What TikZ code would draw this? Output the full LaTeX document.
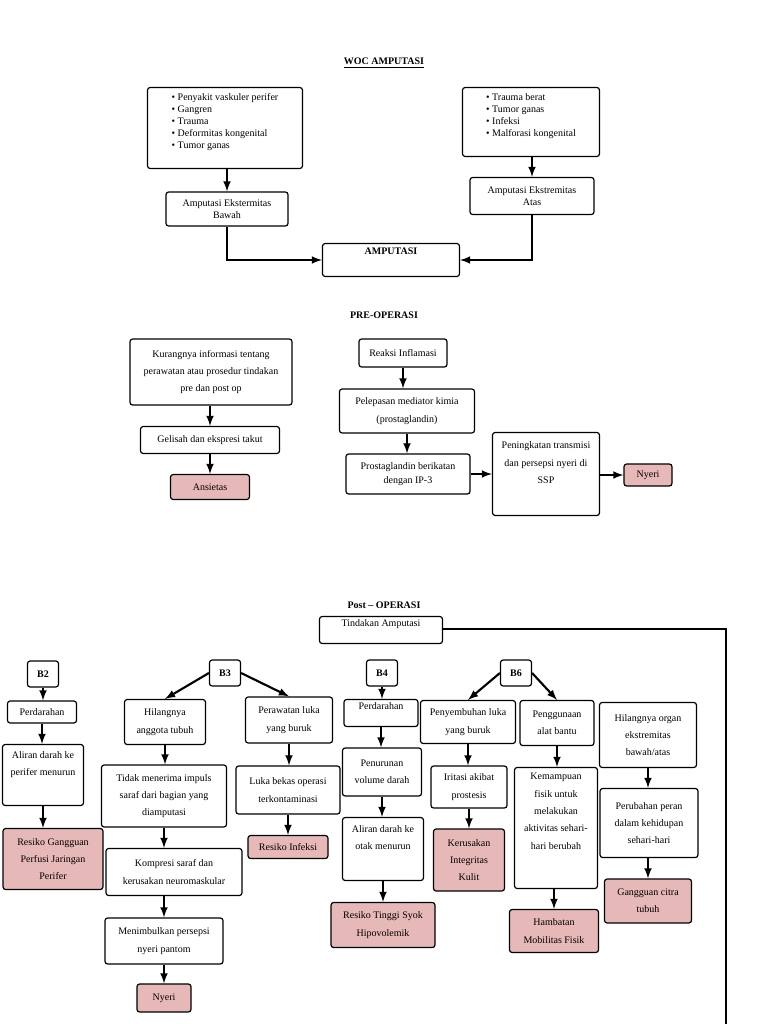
\documentclass[tikz,border=0pt]{standalone}
\usepackage{fontspec}
\setmainfont{Liberation Serif}
\usetikzlibrary{arrows}
\definecolor{pinkbox}{HTML}{E6B8B7}
\tikzset{
  box/.style={draw, line width=0.9pt, rounded corners=2pt, align=center, inner sep=1pt,
    font=\fontsize{7.5}{13}\selectfont},
  diag/.style={box, fill=pinkbox},
  sz/.style 2 args={minimum width=#1*0.75pt, minimum height=#2*0.75pt},
  bkode/.style={box, sz={31}{26}, font=\bfseries\fontsize{7.5}{9}\selectfont},
  arr/.style={line width=1.6pt, -latex},
  title/.style={font=\bfseries\fontsize{7.5}{9}\selectfont}
}
\begin{document}
\begin{tikzpicture}[x=0.75pt, y=-0.75pt]
    \useasboundingbox (0,0) rectangle (768,1024);

    % WOC
    \node[title] (woc) at (384,63) {\underline{WOC AMPUTASI}};
    \node[box, sz={155}{81}, align=left] (sebabB) at (225,128)
        {\textbullet\ Penyakit vaskuler perifer\\[-4pt] \textbullet\ Gangren\\[-4pt] \textbullet\ Trauma\\[-4pt] \textbullet\ Deformitas kongenital\\[-4pt] \textbullet\ Tumor ganas\\[-2pt]\mbox{}};
    \node[box, sz={137}{69}, align=left] (sebabA) at (531,122)
        {\textbullet\ Trauma berat\\[-4pt] \textbullet\ Tumor ganas\\[-4pt] \textbullet\ Infeksi\\[-4pt] \textbullet\ Malforasi kongenital\\[-2pt]\mbox{}};
    \node[box, sz={122}{34}] (bawah) at (227,209) {Amputasi Ekstermitas\\[-4pt] Bawah};
    \node[box, sz={124}{37}] (atas) at (532,196) {Amputasi Ekstremitas\\[-4pt] Atas};
    \node[box, sz={137}{33}, font=\bfseries\fontsize{7.5}{9}\selectfont] (amp) at (391,260) {AMPUTASI\\[4pt]\mbox{}};

    \draw[arr] (sebabB.south -| bawah) -- (bawah.north);
    \draw[arr] (sebabA.south -| atas) -- (atas.north);
    \draw[arr] (bawah.south) |- (amp.west);
    \draw[arr] (atas.south) |- (amp.east);

    % PRE-OPERASI
    \node[title] (pre) at (384,315) {PRE-OPERASI};
    \node[box, sz={162}{66}] (kurang) at (211,372) {Kurangnya informasi tentang\\ perawatan atau prosedur tindakan\\ pre dan post op};
    \node[box, sz={139}{27}] (gelisah) at (210,440) {Gelisah dan ekspresi takut};
    \node[diag, sz={79}{25}] (ansietas) at (210,487) {Ansietas};
    \node[box, sz={88}{28}] (reaksi) at (403,353) {Reaksi Inflamasi};
    \node[box, sz={135}{44}] (lepas) at (407,411) {Pelepasan mediator kimia\\ (prostaglandin)};
    \node[box, sz={124}{40}] (prosta) at (408,474) {Prostaglandin berikatan\\[-3pt] dengan IP-3};
    \node[box, sz={107}{83}] (tingkat) at (546,474) {Peningkatan transmisi\\ dan persepsi nyeri di\\ SSP\\[4pt]\mbox{}};
    \node[diag, sz={48}{22}] (nyeriA) at (648,475) {Nyeri};

    \draw[arr] (kurang.south -| gelisah) -- (gelisah.north);
    \draw[arr] (gelisah.south) -- (ansietas.north);
    \draw[arr] (reaksi.south) -- (reaksi.south |- lepas.north);
    \draw[arr] (lepas.south) -- (lepas.south |- prosta.north);
    \draw[arr] (prosta.east) -- (tingkat.west |- prosta.east);
    \draw[arr] (tingkat.east |- nyeriA) -- (nyeriA.west);

    % Post-OPERASI
    \node[title] (post) at (384,605) {Post -- OPERASI};
    \node[box, sz={123}{27}] (tindakan) at (381,630) {Tindakan Amputasi\\[-2pt]\mbox{}};
    \coordinate (sudut) at (726,629);
    \coordinate (bawahkanan) at (726,1024);
    \draw[line width=1.6pt] (tindakan.east |- sudut) -- (sudut) -- (bawahkanan);

    % B2
    \node[bkode] (btwo) at (43,674) {B2};
    \node[box, sz={69}{22}] (darahA) at (42,712) {Perdarahan};
    \node[box, sz={81}{61}] (aliranA) at (43,775) {Aliran darah ke\\ perifer menurun\\[4pt]\mbox{}};
    \node[diag, sz={100}{61}] (perfusi) at (53,859) {Resiko Gangguan\\ Perfusi Jaringan\\ Perifer};
    \draw[arr] (btwo.south) -- (btwo.south |- darahA.north);
    \draw[arr] (darahA.south) -- (darahA.south |- aliranA.north);
    \draw[arr] (aliranA.south) -- (aliranA.south |- perfusi.north);

    % B3
    \node[bkode] (bthree) at (225,673) {B3};
    \node[box, sz={81}{45}] (anggota) at (165,722) {Hilangnya\\ anggota tubuh};
    \node[box, sz={87}{46}] (rawat) at (289,720) {Perawatan luka\\ yang buruk};
    \node[box, sz={125}{62}] (impuls) at (164,796) {Tidak menerima impuls\\ saraf dari bagian yang\\ diamputasi};
    \node[box, sz={104}{48}] (lukabekas) at (288,790) {Luka bekas operasi\\ terkontaminasi};
    \node[diag, sz={80}{23}] (infeksi) at (288,847) {Resiko Infeksi};
    \node[box, sz={136}{47}] (kompresi) at (174,872) {Kompresi saraf dan\\ kerusakan neuromaskular};
    \node[box, sz={118}{46}] (pantom) at (164,941) {Menimbulkan persepsi\\ nyeri pantom};
    \node[diag, sz={54}{28}] (nyeriB) at (164,998) {Nyeri};
    \draw[arr] (bthree.west) -- (anggota.north);
    \draw[arr] (bthree.east) -- (rawat.north);
    \draw[arr] (anggota.south) -- (anggota.south |- impuls.north);
    \draw[arr] (rawat.south) -- (rawat.south |- lukabekas.north);
    \draw[arr] (lukabekas.south) -- (infeksi.north);
    \draw[arr] (impuls.south) -- (impuls.south |- kompresi.north);
    \draw[arr] (kompresi.south -| pantom) -- (pantom.north);
    \draw[arr] (pantom.south) -- (nyeriB.north);

    % B4
    \node[bkode] (bfour) at (382,673) {B4};
    \node[box, sz={74}{27}] (darahB) at (381,713) {Perdarahan\\[-2pt]\mbox{}};
    \node[box, sz={79}{48}] (volume) at (382,772) {Penurunan\\ volume darah};
    \node[box, sz={81}{63}] (aliranB) at (383,849) {Aliran darah ke\\ otak menurun\\[4pt]\mbox{}};
    \node[diag, sz={104}{45}] (syok) at (383,925) {Resiko Tinggi Syok\\ Hipovolemik};
    \draw[arr] (bfour.south) -- (bfour.south |- darahB.north);
    \draw[arr] (darahB.south) -- (darahB.south |- volume.north);
    \draw[arr] (volume.south) -- (volume.south |- aliranB.north);
    \draw[arr] (aliranB.south) -- (aliranB.south |- syok.north);

    % B6
    \node[bkode] (bsix) at (516,673) {B6};
    \node[box, sz={95}{43}] (sembuh) at (468,722) {Penyembuhan luka\\ yang buruk};
    \node[box, sz={74}{45}] (alat) at (557,723) {Penggunaan\\ alat bantu};
    \node[box, sz={76}{42}] (iritasi) at (469,787) {Iritasi akibat\\ prostesis};
    \node[diag, sz={71}{62}] (kulit) at (469,860) {Kerusakan\\ Integritas\\ Kulit};
    \node[box, sz={83}{121}] (mampu) at (556,828) {Kemampuan\\ fisik untuk\\ melakukan\\ aktivitas sehari-\\ hari berubah\\[12pt]\mbox{}};
    \node[diag, sz={89}{43}] (mobilitas) at (554,931) {Hambatan\\ Mobilitas Fisik};
    \node[box, sz={97}{65}] (organ) at (648,735) {Hilangnya organ\\ ekstremitas\\ bawah/atas};
    \node[box, sz={98}{69}] (peran) at (649,823) {Perubahan peran\\ dalam kehidupan\\ sehari-hari};
    \node[diag, sz={87}{44}] (citra) at (648,901) {Gangguan citra\\ tubuh};
    \draw[arr] (bsix.west) -- (sembuh.north);
    \draw[arr] (bsix.east) -- (alat.north);
    \draw[arr] (sembuh.south) -- (sembuh.south |- iritasi.north);
    \draw[arr] (iritasi.south) -- (iritasi.south |- kulit.north);
    \draw[arr] (alat.south) -- (alat.south |- mampu.north);
    \draw[arr] (mampu.south -| mobilitas) -- (mobilitas.north);
    \draw[arr] (organ.south) -- (organ.south |- peran.north);
    \draw[arr] (peran.south -| citra) -- (citra.north);

\end{tikzpicture}
\end{document}
